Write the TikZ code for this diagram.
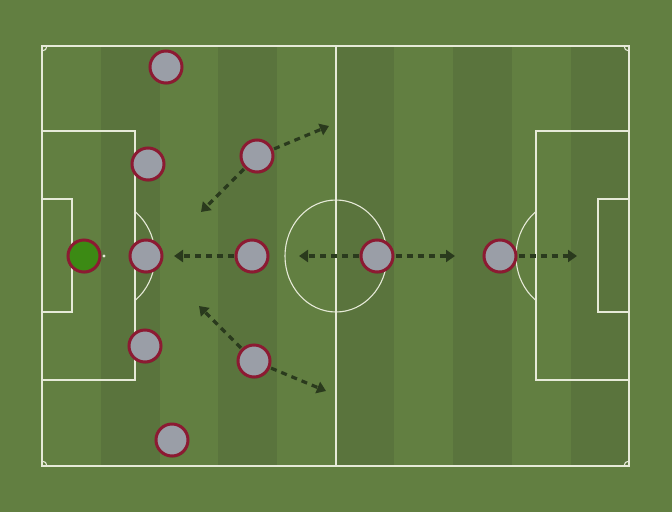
\documentclass[tikz,border=0pt]{standalone}
\usetikzlibrary{arrows.meta}
\definecolor{grass}{HTML}{627F41}
\definecolor{grassdark}{HTML}{5A743D}
\definecolor{pline}{HTML}{E6EAD8}
\definecolor{runc}{HTML}{2A3A1D}
\definecolor{pfill}{HTML}{9A9EA7}
\definecolor{pborder}{HTML}{8C1A32}
\definecolor{gkfill}{HTML}{3C8A14}
\tikzset{
  pitchline/.style={draw=pline, line width=1.1pt},
  player/.style={circle, draw=pborder, line width=3pt, fill=pfill, minimum size=32pt, inner sep=0pt,
    preaction={fill=black, opacity=0.2, transform canvas={xshift=0.8pt,yshift=-1.5pt}}},
  keeper/.style={player, fill=gkfill},
  run/.style={draw=runc, line width=3.2pt, dash pattern=on 6pt off 5pt,
    -{Triangle[length=9pt,width=12pt]}, shorten <=1pt},
}
\begin{document}
\begin{tikzpicture}[x=1pt,y=-1pt]
\useasboundingbox (0,0) rectangle (672,512);
\fill[grass] (0,0) rectangle (672,512);
% stripes
\foreach \s in {101,218.4,335.8,453.2,570.6}{
  \fill[grassdark] (\s,46) rectangle ({\s+58.6},466);
}
% pitch markings
\draw[pitchline] (42,46) rectangle (629,466);
\draw[pitchline] (336,46) -- (336,466);
\draw[pitchline] (336,256) ellipse [x radius=51, y radius=56];
\draw[pitchline] (42,131) rectangle (135,380);
\draw[pitchline] (42,199) rectangle (72,312);
\draw[pitchline] (536,131) rectangle (629,380);
\draw[pitchline] (598,199) rectangle (629,312);
\begin{scope}
  \clip (135,0) rectangle (300,512);
  \draw[pitchline] (104,256) ellipse [x radius=51, y radius=56];
\end{scope}
\begin{scope}
  \clip (372,0) rectangle (536,512);
  \draw[pitchline] (567,256) ellipse [x radius=51, y radius=56];
\end{scope}
\fill[pline] (104,256) circle (1.6);
\fill[pline] (567,256) circle (1.6);
% corner arcs
\draw[pitchline] (47,46) arc[start angle=0, end angle=90, radius=5] ;
\draw[pitchline] (47,466) arc[start angle=0, end angle=-90, radius=5];
\draw[pitchline] (624,46) arc[start angle=180, end angle=90, radius=5];
\draw[pitchline] (624,466) arc[start angle=180, end angle=270, radius=5];
% run targets
\coordinate (t1) at (329,126);
\coordinate (t2) at (201,212);
\coordinate (t3) at (174,256);
\coordinate (t4) at (299,256);
\coordinate (t5) at (455,256);
\coordinate (t6) at (577,256);
\coordinate (t7) at (199,306);
\coordinate (t8) at (326,391);
% players
\node[keeper] (gk) at (84,256) {};
\node[player] (p1) at (166,67) {};
\node[player] (p2) at (148,164) {};
\node[player] (p3) at (146,256) {};
\node[player] (p4) at (145,346) {};
\node[player] (p5) at (172,440) {};
\node[player] (p6) at (257,156) {};
\node[player] (p7) at (252,256) {};
\node[player] (p8) at (254,361) {};
\node[player] (p9) at (377,256) {};
\node[player] (p10) at (500,256) {};
% runs
\draw[run] (p6) -- (t1);
\draw[run] (p6) -- (t2);
\draw[run] (p7) -- (t3);
\draw[run] (p9) -- (t4);
\draw[run] (p9) -- (t5);
\draw[run] (p10) -- (t6);
\draw[run] (p8) -- (t7);
\draw[run] (p8) -- (t8);
\end{tikzpicture}
\end{document}
